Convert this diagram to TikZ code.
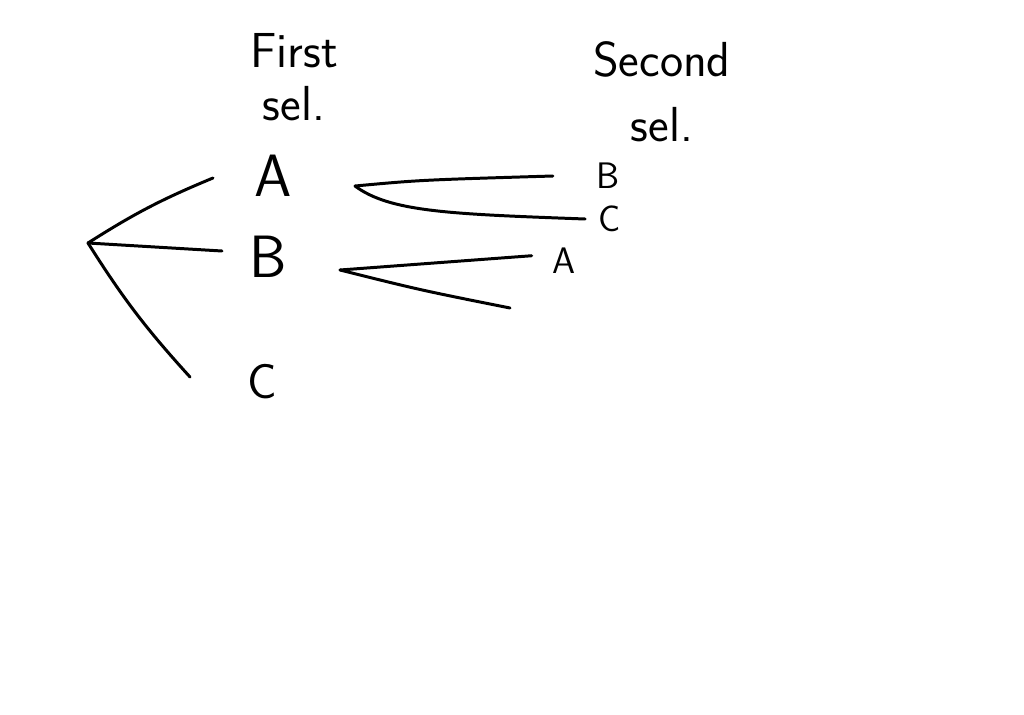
\documentclass[tikz,border=0pt]{standalone}
\usepackage{tikz}
\begin{document}
\begin{tikzpicture}[x=0.02cm,y=-0.02cm,line width=1.7pt,line cap=round,
  font=\sffamily,
  big/.style={font=\sffamily\fontsize{34}{36}\selectfont,inner sep=0pt},
  small/.style={font=\sffamily\fontsize{21}{23}\selectfont,inner sep=0pt},
  head/.style={font=\sffamily\fontsize{28}{30}\selectfont,align=center,inner sep=0pt}]
\useasboundingbox (0,0) rectangle (1024,714);

\node[head] (first) at (294,77) {First\\[0pt]sel.};
\node[head] (second) at (662,92) {Second\\[7pt]sel.};

\coordinate (root) at (88,243);
\node[big] (a1) at (273,176) {A};
\node[big] (b1) at (268,257) {B};
\node[big,font=\sffamily\fontsize{28}{30}\selectfont] (c1) at (262,382) {C};

\coordinate (ea) at (213,178);
\coordinate (eb) at (222,251);
\coordinate (ec) at (190,377);

\node[small] (b2) at (608,176) {B};
\node[small] (c2) at (610,219) {C};
\node[small] (a2) at (564,261) {A};

\coordinate (sa) at (355,186);
\coordinate (sb) at (340,270);
\coordinate (open) at (510,308);

\path[-] (root) edge[bend left=5] (ea);
\path[-] (root) edge (eb);
\path[-] (root) edge[bend right=5] (ec);

\draw (sa) .. controls (420,180) .. ([xshift=-24pt]b2.west);
\draw (sa) .. controls (390,212) and (450,214) .. ([xshift=-7pt]c2.west);
\draw (sb) -- ([xshift=-11pt,yshift=3pt]a2.west);
\draw (sb) .. controls (420,290) .. (open);
\end{tikzpicture}
\end{document}
